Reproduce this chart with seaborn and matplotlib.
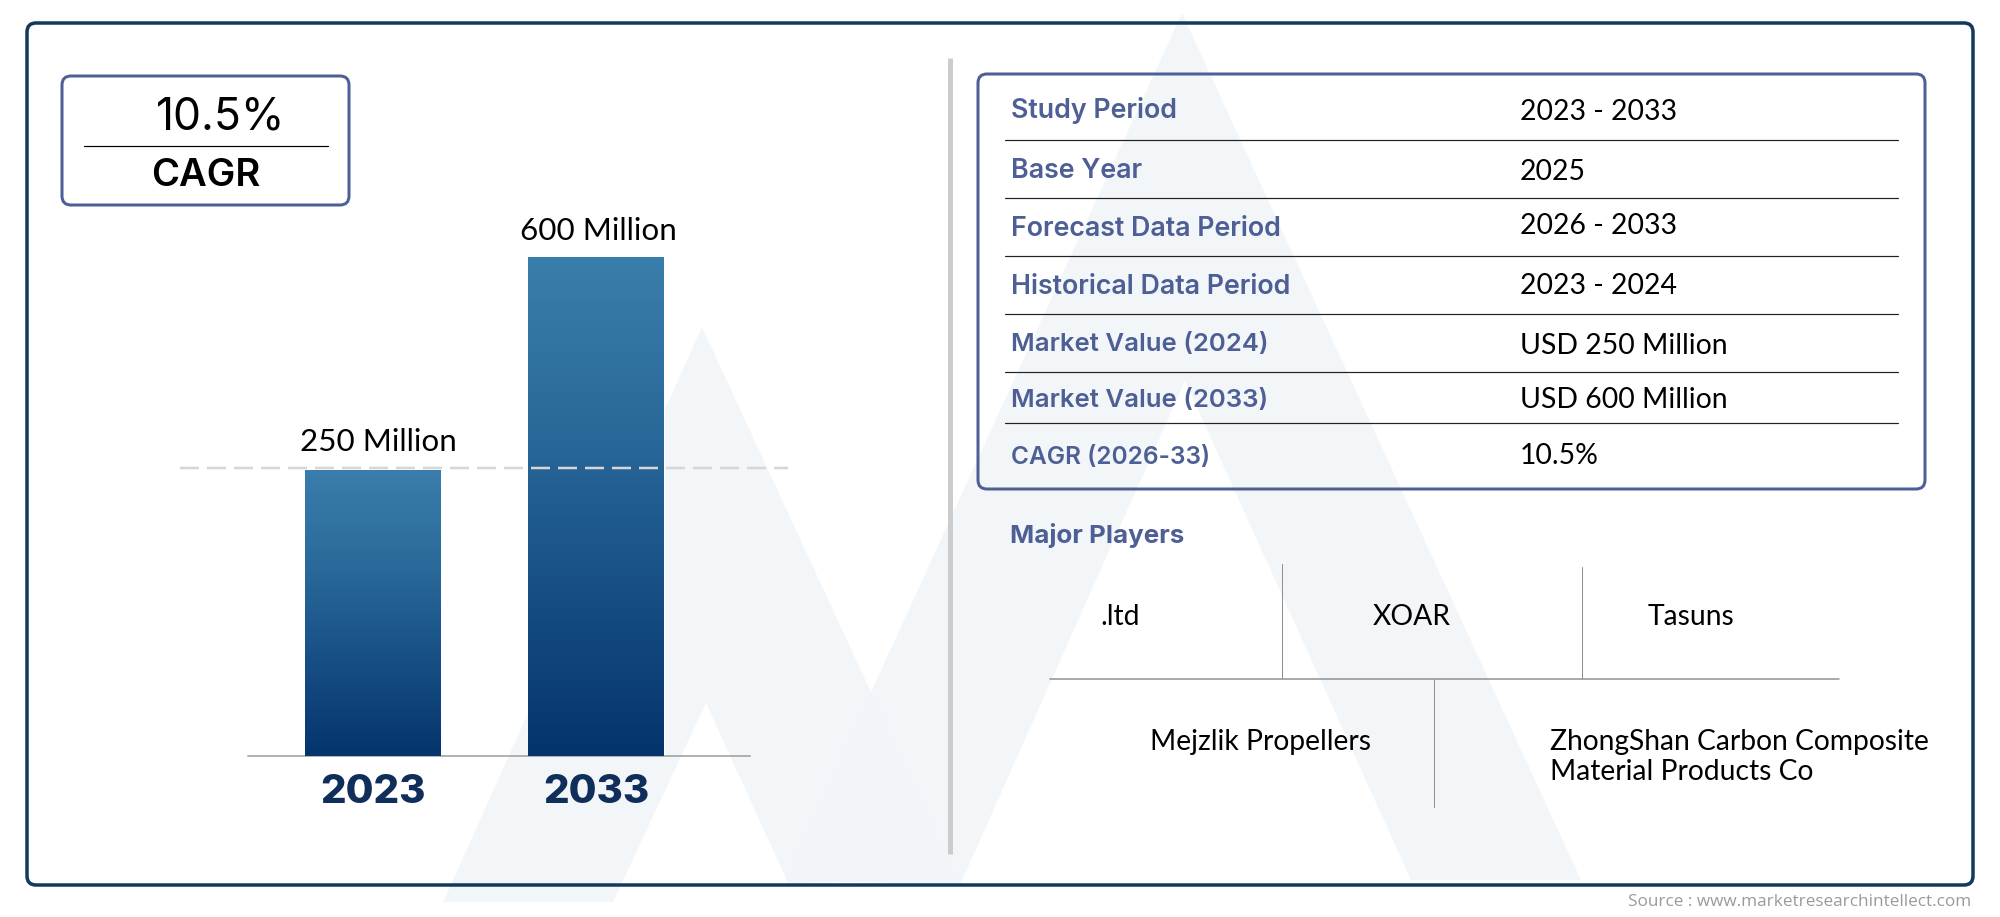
import numpy as np
import pandas as pd
import seaborn as sns
import matplotlib
matplotlib.use("Agg")
import matplotlib.pyplot as plt
from matplotlib.patches import FancyBboxPatch, Polygon
from matplotlib.colors import LinearSegmentedColormap

# ---- data ----
years = ["2023", "2033"]
# the source draws its two bars out of proportion: these are the heights as
# drawn, on an axis where the tall bar reads 600
bar_heights = [344, 600]
bar_labels = ["250 Million", "600 Million"]
cagr_value = "10.5%"
cagr_label = "CAGR"
table_keys = ["Study Period", "Base Year", "Forecast Data Period", "Historical Data Period",
              "Market Value (2024)", "Market Value (2033)", "CAGR (2026-33)"]
table_values = ["2023 - 2033", "2025", "2026 - 2033", "2023 - 2024",
                "USD 250 Million", "USD 600 Million", "10.5%"]
players_title = "Major Players"
source_text = "Source : www.marketresearchintellect.com"

W, H = 2000, 917
BODY = "Lato"
HEAD = "Inter"
BLUE = "#4d5f94"
NAVY = "#123a5c"

sns.set_theme(style="white")
plt.rcParams["font.family"] = [BODY, "DejaVu Sans"]

fig = plt.figure(figsize=(W / 100, H / 100), dpi=100, facecolor="white")

# page-level layer in pixel coordinates
pg = fig.add_axes([0, 0, 1, 1], zorder=0)
pg.set_xlim(0, W)
pg.set_ylim(H, 0)
pg.axis("off")

px = 0.72  # points per pixel

# watermark
for pts in ([(702, 327), (958, 880), (788, 883), (706, 703), (613, 902), (443, 902)],
            [(1182, 13), (1581, 880), (1411, 880), (1185, 381), (960, 885), (785, 880)]):
    pg.add_patch(Polygon(pts, closed=True, fc="#f1f5f9", ec="none", alpha=0.85))


def rbox(x0, y0, x1, y1, color, lw, r=9):
    pg.add_patch(FancyBboxPatch((x0 + r, y0 + r), x1 - x0 - 2 * r, y1 - y0 - 2 * r,
                                boxstyle=f"round,pad={r},rounding_size={r}",
                                fc="none", ec=color, lw=lw * px))


rbox(27, 23, 1973, 885, NAVY, 3.5)
rbox(62, 76, 349, 205, BLUE, 3)
rbox(978, 74, 1925, 489, BLUE, 3)

# CAGR card
pg.plot([84, 328], [146, 146], color="black", lw=1.2 * px)
pg.text(221, 117, cagr_value, ha="center", va="center", fontsize=32, color="black",
        family=HEAD, fontweight="normal")
pg.text(206, 176, cagr_label, ha="center", va="center", fontsize=27.5, color="black",
        family=HEAD, fontweight="semibold")

# divider
pg.plot([950, 950], [58, 854], color="#cccccc", lw=5 * px, solid_capstyle="butt")

# table
for y in [140, 198, 256, 314, 372, 423]:
    pg.plot([1005, 1898], [y, y], color="#222222", lw=1.2 * px)
key_y = [110.5, 170.5, 228.5, 286.5, 344.5, 400.5, 457.5]
val_y = [111.5, 171.5, 226.5, 286.5, 346.5, 399.5, 456.5]
key_fs = [19.3, 19.3, 19.3, 19.3, 18.5, 18.5, 17.6]
for k, v, ky, vy, fs in zip(table_keys, table_values, key_y, val_y, key_fs):
    pg.text(1011, ky, k, ha="left", va="center", fontsize=fs, color=BLUE,
            family=HEAD, fontweight="semibold")
    pg.text(1520, vy, v, ha="left", va="center", fontsize=20.4, color="black")

# players
pg.text(1010, 536, players_title, ha="left", va="center", fontsize=18.7, color=BLUE,
        family=HEAD, fontweight="bold")
GREY = "#8f8f8f"
pg.plot([1282, 1282], [564, 678], color=GREY, lw=1 * px)
pg.plot([1582, 1582], [567, 678], color=GREY, lw=1 * px)
pg.plot([1050, 1839], [679, 679], color=GREY, lw=1.5 * px)
pg.plot([1434, 1434], [679, 807], color=GREY, lw=1 * px)
pg.text(1120, 617, ".ltd", ha="center", va="center", fontsize=20.3, color="black")
pg.text(1412, 617, "XOAR", ha="center", va="center", fontsize=20.3, color="black")
pg.text(1691, 617, "Tasuns", ha="center", va="center", fontsize=20.3, color="black")
pg.text(1150, 742, "Mejzlik Propellers", ha="left", va="center", fontsize=20.3, color="black")
pg.text(1550, 742, "ZhongShan Carbon Composite", ha="left", va="center", fontsize=20.3, color="black")
pg.text(1550, 772, "Material Products Co", ha="left", va="center", fontsize=20.3, color="black")

# source
pg.text(1971, 902, source_text, ha="right", va="center", fontsize=12.3, color="#9a9a9a",
        family="Open Sans", fontweight="medium")

# bars layer: 0 -> x=373 px, 1 -> x=596 px, y 0 -> 756 px, 600 -> 257 px
ax = fig.add_axes([248 / W, 1 - 756 / H, (750 - 248) / W, (756 - 257) / H], zorder=1)
ax.patch.set_alpha(0)
df = pd.DataFrame({"year": years, "value": bar_heights})
sns.barplot(data=df, x="year", y="value", ax=ax, width=136 / 223, color="#0b3b70", saturation=1)

xlim = ((248 - 373) / 223, (750 - 373) / 223)
cmap = LinearSegmentedColormap.from_list("bar", ["#3a7eac", "#2a6a9b", "#174f85", "#05346c"])
grad = np.linspace(0, 1, 256).reshape(-1, 1)
for bar, lab, dx, dy in zip(ax.patches, bar_labels, [5, 2], [14, 12]):
    x0, w, h = bar.get_x(), bar.get_width(), bar.get_height()
    im = ax.imshow(grad, extent=(x0, x0 + w, 0, h), aspect="auto", cmap=cmap, origin="upper", zorder=3)
    im.set_clip_path(bar)
    ax.annotate(lab, (x0 + w / 2, h), xytext=(dx * px, dy * px), textcoords="offset points",
                ha="center", va="bottom", fontsize=22.6, color="black")

ax.hlines(bar_heights[0] * 1.005, (180 - 373) / 223, (788 - 373) / 223, color="#d6d6d6",
          lw=2.5 * px, linestyles=(0, (19 / 2.5, 8 / 2.5)), zorder=5, clip_on=False)
ax.set_xlim(*xlim)
ax.set_ylim(0, 600)
ax.set_xlabel("")
ax.set_ylabel("")
ax.set_yticks([])
for s in ["top", "left", "right"]:
    ax.spines[s].set_visible(False)
ax.spines["bottom"].set_color("#9a9a9a")
ax.spines["bottom"].set_linewidth(1.5 * px)
ax.tick_params(axis="x", length=0, pad=13)
for t in ax.get_xticklabels():
    t.set_fontsize(29)
    t.set_fontweight("heavy")
    t.set_family(HEAD)
    t.set_color("#0f2f5a")

fig.savefig("out.png", dpi=100, facecolor="white")
